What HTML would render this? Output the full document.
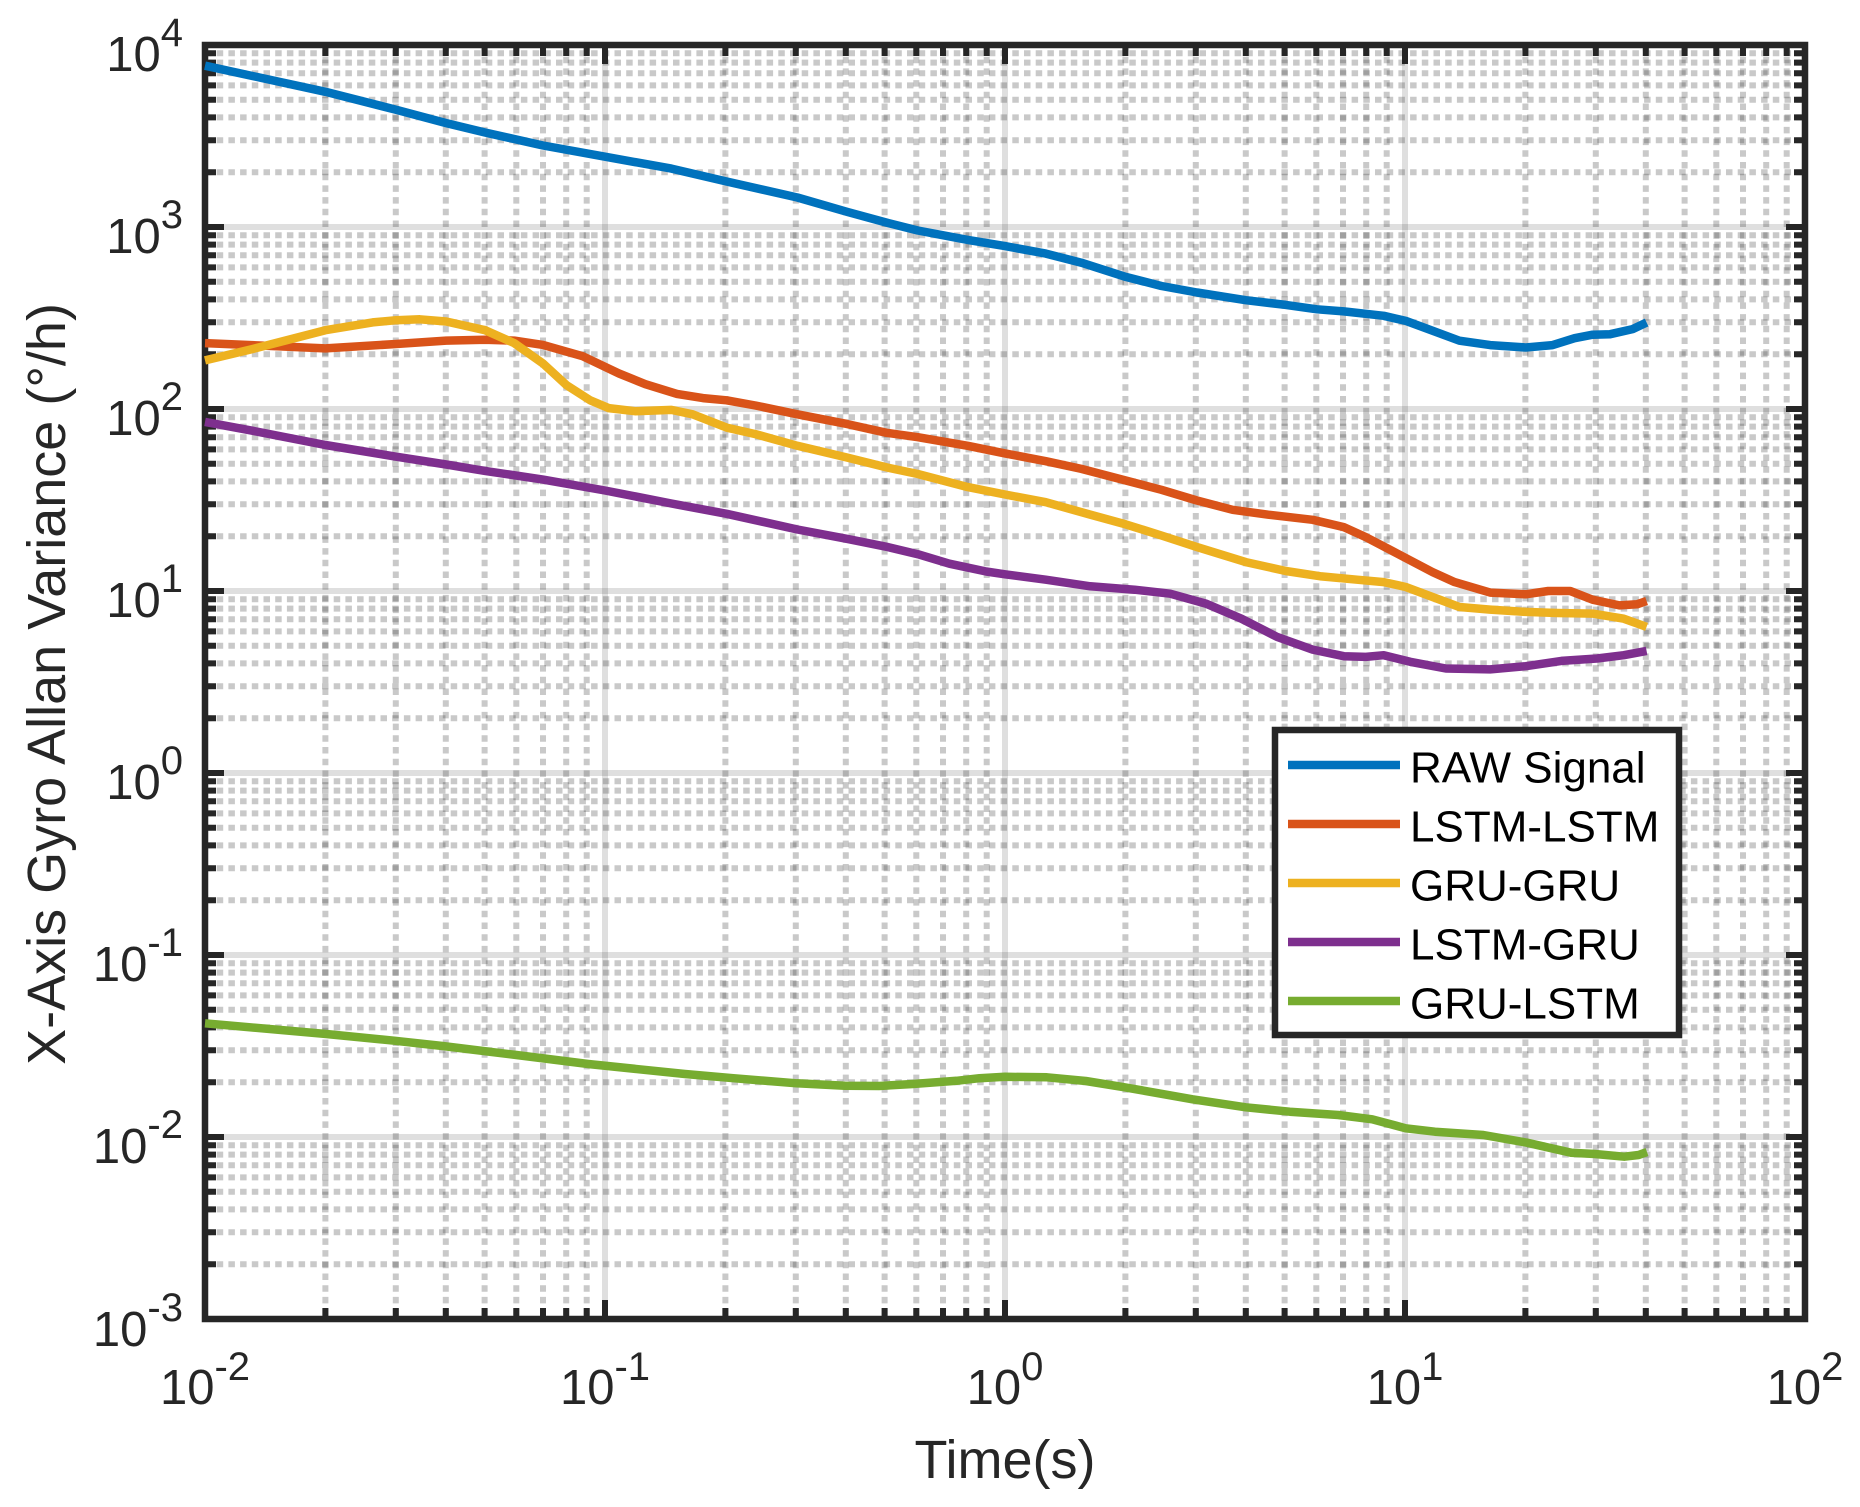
<!DOCTYPE html>
<html>
<head>
<meta charset="utf-8">
<style>
html,body{margin:0;padding:0;background:#fff;}
svg{display:block;}
text{font-family:"Liberation Sans",Arial,Helvetica,sans-serif;}
</style>
</head>
<body>
<svg width="1860" height="1507" viewBox="0 0 1860 1507" xmlns="http://www.w3.org/2000/svg">
<rect x="0" y="0" width="1860" height="1507" fill="#fff"/>
<rect x="205" y="45" width="1600" height="1274" fill="#fff"/>

<!-- major grid -->
<g stroke="#262626" stroke-opacity="0.15" stroke-width="6" fill="none">
<path d="M205 1137H1805M205 955H1805M205 773H1805M205 591H1805M205 409H1805M205 227H1805"/>
<path d="M605 45V1319M1005 45V1319M1405 45V1319"/>
</g>

<!-- minor grid -->
<g stroke="#262626" stroke-opacity="0.25" stroke-width="6" fill="none" stroke-dasharray="6.5 5.2">
<path d="M205 1264.2H1805M205 1232.2H1805M205 1209.4H1805M205 1191.8H1805M205 1177.4H1805M205 1165.2H1805M205 1154.6H1805M205 1145.3H1805
M205 1082.2H1805M205 1050.2H1805M205 1027.4H1805M205 1009.8H1805M205 995.4H1805M205 983.2H1805M205 972.6H1805M205 963.3H1805
M205 900.2H1805M205 868.2H1805M205 845.4H1805M205 827.8H1805M205 813.4H1805M205 801.2H1805M205 790.6H1805M205 781.3H1805
M205 718.2H1805M205 686.2H1805M205 663.4H1805M205 645.8H1805M205 631.4H1805M205 619.2H1805M205 608.6H1805M205 599.3H1805
M205 536.2H1805M205 504.2H1805M205 481.4H1805M205 463.8H1805M205 449.4H1805M205 437.2H1805M205 426.6H1805M205 417.3H1805
M205 354.2H1805M205 322.2H1805M205 299.4H1805M205 281.8H1805M205 267.4H1805M205 255.2H1805M205 244.6H1805M205 235.3H1805
M205 172.2H1805M205 140.2H1805M205 117.4H1805M205 99.8H1805M205 85.4H1805M205 73.2H1805M205 62.6H1805M205 53.3H1805"/>
<path d="M325.4 45V1319M395.8 45V1319M445.8 45V1319M484.6 45V1319M516.3 45V1319M543 45V1319M566.2 45V1319M586.7 45V1319
M725.4 45V1319M795.8 45V1319M845.8 45V1319M884.6 45V1319M916.3 45V1319M943 45V1319M966.2 45V1319M986.7 45V1319
M1125.4 45V1319M1195.8 45V1319M1245.8 45V1319M1284.6 45V1319M1316.3 45V1319M1343 45V1319M1366.2 45V1319M1386.7 45V1319
M1525.4 45V1319M1595.8 45V1319M1645.8 45V1319M1684.6 45V1319M1716.3 45V1319M1743 45V1319M1766.2 45V1319M1786.7 45V1319"/>
</g>

<!-- ticks -->
<g stroke="#262626" stroke-width="6" fill="none">
<path d="M205 1137h19M205 955h19M205 773h19M205 591h19M205 409h19M205 227h19
M1805 1137h-19M1805 955h-19M1805 773h-19M1805 591h-19M1805 409h-19M1805 227h-19
M605 1319v-19M1005 1319v-19M1405 1319v-19M605 45v19M1005 45v19M1405 45v19"/>
<path d="M205 1264.2h11M205 1232.2h11M205 1209.4h11M205 1191.8h11M205 1177.4h11M205 1165.2h11M205 1154.6h11M205 1145.3h11
M205 1082.2h11M205 1050.2h11M205 1027.4h11M205 1009.8h11M205 995.4h11M205 983.2h11M205 972.6h11M205 963.3h11
M205 900.2h11M205 868.2h11M205 845.4h11M205 827.8h11M205 813.4h11M205 801.2h11M205 790.6h11M205 781.3h11
M205 718.2h11M205 686.2h11M205 663.4h11M205 645.8h11M205 631.4h11M205 619.2h11M205 608.6h11M205 599.3h11
M205 536.2h11M205 504.2h11M205 481.4h11M205 463.8h11M205 449.4h11M205 437.2h11M205 426.6h11M205 417.3h11
M205 354.2h11M205 322.2h11M205 299.4h11M205 281.8h11M205 267.4h11M205 255.2h11M205 244.6h11M205 235.3h11
M205 172.2h11M205 140.2h11M205 117.4h11M205 99.8h11M205 85.4h11M205 73.2h11M205 62.6h11M205 53.3h11
M1805 1264.2h-11M1805 1232.2h-11M1805 1209.4h-11M1805 1191.8h-11M1805 1177.4h-11M1805 1165.2h-11M1805 1154.6h-11M1805 1145.3h-11
M1805 1082.2h-11M1805 1050.2h-11M1805 1027.4h-11M1805 1009.8h-11M1805 995.4h-11M1805 983.2h-11M1805 972.6h-11M1805 963.3h-11
M1805 900.2h-11M1805 868.2h-11M1805 845.4h-11M1805 827.8h-11M1805 813.4h-11M1805 801.2h-11M1805 790.6h-11M1805 781.3h-11
M1805 718.2h-11M1805 686.2h-11M1805 663.4h-11M1805 645.8h-11M1805 631.4h-11M1805 619.2h-11M1805 608.6h-11M1805 599.3h-11
M1805 536.2h-11M1805 504.2h-11M1805 481.4h-11M1805 463.8h-11M1805 449.4h-11M1805 437.2h-11M1805 426.6h-11M1805 417.3h-11
M1805 354.2h-11M1805 322.2h-11M1805 299.4h-11M1805 281.8h-11M1805 267.4h-11M1805 255.2h-11M1805 244.6h-11M1805 235.3h-11
M1805 172.2h-11M1805 140.2h-11M1805 117.4h-11M1805 99.8h-11M1805 85.4h-11M1805 73.2h-11M1805 62.6h-11M1805 53.3h-11"/>
<path d="M325.4 1319v-11M395.8 1319v-11M445.8 1319v-11M484.6 1319v-11M516.3 1319v-11M543 1319v-11M566.2 1319v-11M586.7 1319v-11
M725.4 1319v-11M795.8 1319v-11M845.8 1319v-11M884.6 1319v-11M916.3 1319v-11M943 1319v-11M966.2 1319v-11M986.7 1319v-11
M1125.4 1319v-11M1195.8 1319v-11M1245.8 1319v-11M1284.6 1319v-11M1316.3 1319v-11M1343 1319v-11M1366.2 1319v-11M1386.7 1319v-11
M1525.4 1319v-11M1595.8 1319v-11M1645.8 1319v-11M1684.6 1319v-11M1716.3 1319v-11M1743 1319v-11M1766.2 1319v-11M1786.7 1319v-11
M325.4 45v11M395.8 45v11M445.8 45v11M484.6 45v11M516.3 45v11M543 45v11M566.2 45v11M586.7 45v11
M725.4 45v11M795.8 45v11M845.8 45v11M884.6 45v11M916.3 45v11M943 45v11M966.2 45v11M986.7 45v11
M1125.4 45v11M1195.8 45v11M1245.8 45v11M1284.6 45v11M1316.3 45v11M1343 45v11M1366.2 45v11M1386.7 45v11
M1525.4 45v11M1595.8 45v11M1645.8 45v11M1684.6 45v11M1716.3 45v11M1743 45v11M1766.2 45v11M1786.7 45v11"/>
</g>

<!-- axis box -->
<rect x="205" y="45" width="1600" height="1274" fill="none" stroke="#262626" stroke-width="6.5"/>

<!-- data -->
<g fill="none" stroke-width="8.5" stroke-linejoin="round" stroke-linecap="butt">
<polyline stroke="#0072BD" points="205,65.7 325.4,91.8 397,110 446.2,123.1 485,132.5 543,145.5 605,156.7 671.4,168.6 726.6,181.5 797.4,197.5 847.4,211.9 886.6,222.6 917.8,230.5 967.8,239.9 1005,246.1 1045.8,253.6 1081.4,262.7 1125.8,276.9 1161.4,286 1197,292.5 1245.8,300.2 1285.8,304.9 1317,309.3 1343.8,311.4 1383.8,315.8 1405.8,320.9 1428.2,329.1 1459.4,340.7 1490.2,345.1 1525.8,347.5 1552.6,345.1 1574.6,338.2 1592.6,334.7 1610.2,334.2 1632.6,329.1 1646.6,322.5"/>
<polyline stroke="#D95319" points="205,343.1 325.4,348.4 396.2,344 446.2,340.6 485,339.7 514.2,340.6 543,344.9 582.6,356.2 619,373.5 645.4,384.2 677,393.9 703,398.1 726.6,400.3 755.4,405.5 797.4,414.3 847.4,424.1 886.6,432.8 917.8,437.2 967.8,445.8 1005,453.4 1045.8,461.2 1081.4,468.9 1125.8,480.5 1161.4,489.8 1197,500.5 1232.6,509.8 1268.2,514.7 1312.6,519.8 1343.8,527.1 1365.8,537.1 1388.2,548.8 1410.2,560.4 1432.6,572.1 1454.6,582.1 1490.2,592.6 1525.8,594.3 1548.2,591 1570.2,591 1592.6,599.7 1619.4,605.4 1637,604.3 1646.6,601"/>
<polyline stroke="#EDB120" points="205,360.4 252.2,349.1 325.4,330.2 372.6,322.4 396.2,320.2 419.8,319.3 446.2,321.5 485,330.2 514.2,343.1 543,363.5 566.6,385.2 590.2,400.3 608.6,408.1 635,411.2 671.4,409.9 692.6,414.3 726.6,427.6 755.4,434.1 797.4,445.8 847.4,457.6 886.6,467.4 917.8,474 967.8,487.1 1005,494.5 1045.8,502.2 1090.2,514.6 1125.8,524.4 1161.4,535.5 1197,547.1 1245.8,562.1 1285.8,571 1321.4,576.4 1357,579.7 1383.8,582.1 1405.8,587 1428.2,595.4 1459.4,607 1490.2,609.6 1525.8,611.9 1557,613 1592.6,613.6 1623.8,618.7 1646.6,626.9"/>
<polyline stroke="#7E2F8E" points="205,421.9 252.2,430.7 325.4,445 396.2,456.7 446.2,464.5 485,470.9 543,479.6 605,490.5 671.4,503.5 726.6,513.8 797.4,529.5 847.4,538.9 886.6,546.8 917.8,554.2 949.4,563.7 986.2,571.5 1005,574.3 1045.8,579.7 1090.2,586.3 1134.6,589.7 1170.2,593.7 1205.8,603.6 1241.4,618.7 1277,636.9 1312.6,649.6 1343.8,656.2 1365.8,656.9 1383.8,655.2 1410.2,661.8 1445.8,668.5 1490.2,669.4 1525.8,666.2 1561.4,660.9 1597,658.5 1623.8,655.2 1646.6,650.9"/>
<polyline stroke="#77AC30" points="205,1023.3 326.2,1034 394.2,1040.7 442.6,1046 515.4,1054.9 588.2,1064 685,1074 733.4,1078.2 796.6,1083.3 845,1085.7 879,1086 913,1084 956.6,1080.8 979.4,1078.2 1005,1076.8 1047,1077.3 1085.8,1081 1124.6,1087.3 1192.6,1099.3 1245.8,1107.3 1289.8,1111.7 1338.2,1115 1372.2,1119.3 1405.8,1128.3 1435,1131.7 1483.4,1135 1527,1142.7 1571,1152.7 1595,1154 1624.2,1156.7 1638.6,1155 1647,1152"/>
</g>

<!-- y tick labels -->
<g fill="#262626" font-size="49" text-anchor="end">
<text x="183" y="71">10<tspan font-size="40" dy="-25">4</tspan></text>
<text x="183" y="253">10<tspan font-size="40" dy="-25">3</tspan></text>
<text x="183" y="435">10<tspan font-size="40" dy="-25">2</tspan></text>
<text x="183" y="617">10<tspan font-size="40" dy="-25">1</tspan></text>
<text x="183" y="799">10<tspan font-size="40" dy="-25">0</tspan></text>
<text x="183" y="981">10<tspan font-size="40" dy="-25">-1</tspan></text>
<text x="183" y="1163">10<tspan font-size="40" dy="-25">-2</tspan></text>
<text x="183" y="1346">10<tspan font-size="40" dy="-25">-3</tspan></text>
</g>

<!-- x tick labels -->
<g fill="#262626" font-size="49" text-anchor="middle">
<text x="205" y="1404">10<tspan font-size="40" dy="-24">-2</tspan></text>
<text x="605" y="1404">10<tspan font-size="40" dy="-24">-1</tspan></text>
<text x="1005" y="1404">10<tspan font-size="40" dy="-24">0</tspan></text>
<text x="1405" y="1404">10<tspan font-size="40" dy="-24">1</tspan></text>
<text x="1805" y="1404">10<tspan font-size="40" dy="-24">2</tspan></text>
</g>

<!-- axis labels -->
<text x="1005" y="1478" font-size="54" fill="#262626" text-anchor="middle">Time(s)</text>
<text transform="translate(65,684) rotate(-90)" x="0" y="0" font-size="54" fill="#262626" text-anchor="middle">X-Axis Gyro Allan Variance (°/h)</text>

<!-- legend -->
<rect x="1275" y="730" width="404" height="305" fill="#fff" stroke="#262626" stroke-width="6.5"/>
<g stroke-width="8.5">
<line x1="1288" y1="765" x2="1400" y2="765" stroke="#0072BD"/>
<line x1="1288" y1="824" x2="1400" y2="824" stroke="#D95319"/>
<line x1="1288" y1="883" x2="1400" y2="883" stroke="#EDB120"/>
<line x1="1288" y1="942" x2="1400" y2="942" stroke="#7E2F8E"/>
<line x1="1288" y1="1001" x2="1400" y2="1001" stroke="#77AC30"/>
</g>
<g fill="#000" font-size="44">
<text x="1410" y="782.5">RAW Signal</text>
<text x="1410" y="841.5">LSTM-LSTM</text>
<text x="1410" y="900.5">GRU-GRU</text>
<text x="1410" y="959.5">LSTM-GRU</text>
<text x="1410" y="1018.5">GRU-LSTM</text>
</g>
</svg>
</body>
</html>
